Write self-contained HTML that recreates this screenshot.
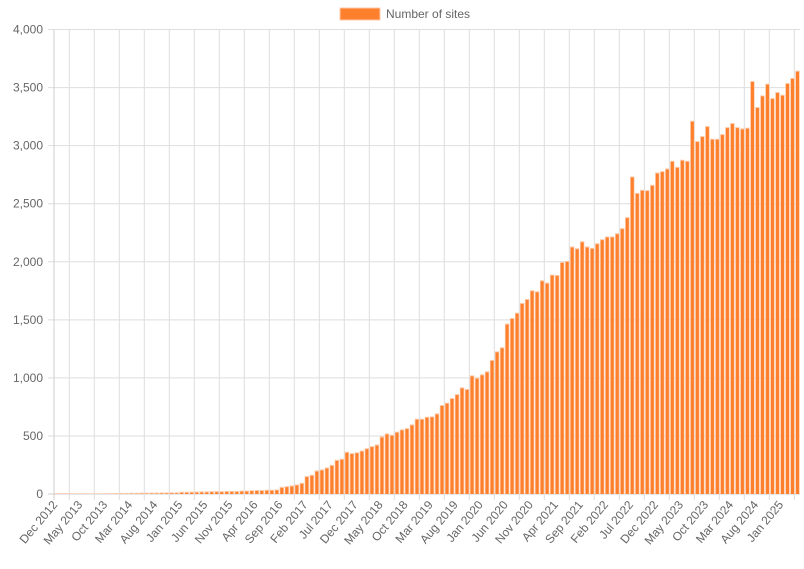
<!DOCTYPE html>
<html><head><meta charset="utf-8"><style>
html,body{margin:0;padding:0;background:#fff;width:804px;height:569px;overflow:hidden}
svg{display:block;font-family:"Liberation Sans",Arial,sans-serif}
</style></head><body>
<svg id="c" width="804" height="569" viewBox="0 0 804 569" xmlns="http://www.w3.org/2000/svg">
<rect x="340" y="8" width="40" height="12" fill="#fe7f2c" stroke="#fdc9a8" stroke-width="1"/>
<text x="386" y="18" font-size="12" fill="#666">Number of sites</text>
</svg>
<script>
var d=[3,3,3,3,2,2,2,2,2,2,3,3,4,5,5,6,6,7,7,8,8,9,9,10,10,15,15,16,16,18,18,20,20,20,22,22,22,25,25,28,30,30,32,32,35,57,63,69,78,92,150,161,198,207,224,247,290,299,359,348,355,370,390,408,422,491,517,506,532,552,563,595,644,644,661,664,690,762,782,822,856,914,900,1017,997,1026,1052,1150,1224,1259,1463,1511,1557,1641,1675,1750,1741,1836,1816,1885,1882,1994,2003,2127,2112,2172,2127,2115,2155,2190,2213,2213,2241,2285,2380,2730,2589,2615,2612,2658,2764,2776,2799,2865,2813,2874,2865,3210,3035,3078,3164,3055,3055,3095,3155,3190,3155,3144,3150,3552,3328,3428,3529,3405,3457,3434,3535,3578,3641];
var s='',L=54,R=800,T=29.5,B=494,N=d.length,w=(R-L)/N;
function Y(v){return B-(B-T)*v/4000;}
for(var k=0;k<=8;k++){var y=Y(k*500);
 s+='<line x1="48" x2="'+R+'" y1="'+y+'" y2="'+y+'" stroke="'+(k==0?'#cfcfcf':'#dedede')+'" stroke-width="1"/>';
 s+='<text x="43" y="'+(y+4)+'" font-size="12" fill="#666" text-anchor="end">'+(k*500).toLocaleString('en-US')+'</text>';}
s+='<line x1="'+L+'" x2="'+L+'" y1="'+T+'" y2="500" stroke="#cfcfcf"/>';
for(var x=L+15.3;x<R;x+=25){s+='<line x1="'+x+'" x2="'+x+'" y1="'+T+'" y2="500" stroke="#dedede"/>';}
var m=['Jan','Feb','Mar','Apr','May','Jun','Jul','Aug','Sep','Oct','Nov','Dec'];
for(var i=0;i<N;i++){var v=d[i],y=Y(v),x=L+i*w;
 s+='<rect x="'+(x+0.3)+'" y="'+(y-0.5)+'" width="4.4" height="'+(B-y+0.5)+'" fill="#fdc9a8"/>';
 s+='<rect x="'+(x+1)+'" y="'+(y+0.5)+'" width="3" height="'+Math.max(0,B-y-0.5)+'" fill="#fe7f2c"/>';
 if(i%5==0){var mi=(11+i)%12,yr=2012+Math.floor((11+i)/12),cx=x+w/2+1.5;
  s+='<text font-size="12" fill="#666" text-anchor="end" transform="translate('+cx+',505) rotate(-50)">'+m[mi]+' '+yr+'</text>';}}
document.getElementById('c').insertAdjacentHTML('beforeend',s);
</script>
</body></html>
